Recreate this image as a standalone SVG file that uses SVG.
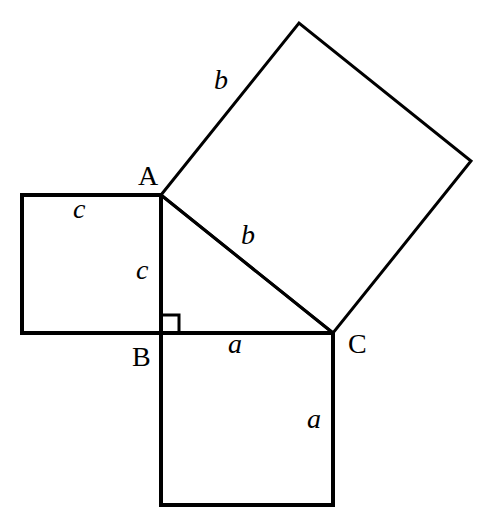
<svg xmlns="http://www.w3.org/2000/svg" width="487" height="516" viewBox="0 0 487 516">
<style>
.thick{fill:none;stroke:#000;stroke-width:4;stroke-linejoin:miter}
.thin{fill:none;stroke:#000;stroke-width:3;stroke-linejoin:miter}
.lbl{font-family:"Liberation Serif",serif;font-size:28px;fill:#000}
.var{font-family:"Liberation Serif",serif;font-size:28px;font-style:italic;fill:#000}
</style>
<rect width="487" height="516" fill="#fff"/>
<g id="square-b">
<polygon class="thin" points="161,195 299,23 471,161 333,333"/>
</g>
<g id="square-c">
<rect class="thick" x="22" y="195" width="139" height="138"/>
</g>
<g id="square-a">
<rect class="thick" x="161" y="333" width="172" height="172"/>
</g>
<g id="connectors">
<line class="thin" x1="161" y1="195" x2="333" y2="333"/>
<polyline class="thin" points="161,315 179,315 179,333"/>
</g>
<g id="labels">
<text class="lbl" x="138" y="185">A</text>
<text class="lbl" x="132" y="366">B</text>
<text class="lbl" x="348" y="353">C</text>
<text class="var" x="214" y="89">b</text>
<text class="var" x="241" y="244">b</text>
<text class="var" x="73" y="218">c</text>
<text class="var" x="136" y="279">c</text>
<text class="var" x="228" y="353">a</text>
<text class="var" x="307" y="428">a</text>
</g>
</svg>
